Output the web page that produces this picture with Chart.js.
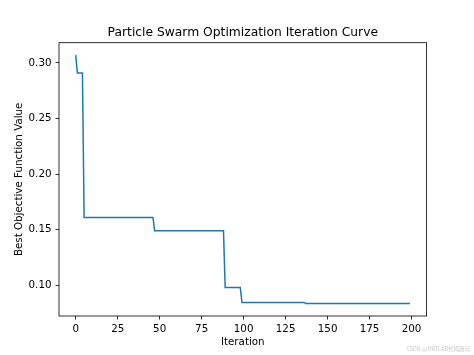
<!DOCTYPE html>
<html>
<head>
<meta charset="utf-8">
<script src="https://cdn.jsdelivr.net/npm/chart.js@4/dist/chart.umd.min.js"></script>
<style>
  html, body { margin: 0; padding: 0; background: #fff; }
  #wrap { width: 474px; height: 355px; position: relative; }
</style>
</head>
<body>
<div id="wrap"><canvas id="c" width="474" height="355"></canvas></div>
<script>
// Step changes of the best objective value (iteration where a new level starts, and its value)
const stepIterations = [0, 1, 5, 47, 89, 99, 137];
const stepValues = [0.307, 0.291, 0.161, 0.149, 0.098, 0.0845, 0.0835];
const lastIteration = 199;
const xTickStep = 25;
const yTickStep = 0.05;
const titleText = 'Particle Swarm Optimization Iteration Curve';
const xLabel = 'Iteration';
const yLabel = 'Best Objective Function Value';
const watermark = 'CSDN @MATLAB代码顾问';

// expand the step levels into one point per iteration
const points = [];
for (let it = 0; it <= lastIteration; it++) {
  let v = stepValues[0];
  for (let k = 0; k < stepIterations.length; k++) {
    if (it >= stepIterations[k]) v = stepValues[k];
  }
  points.push({ x: it, y: v });
}

const xs = points.map(p => p.x), ys = points.map(p => p.y);
const xMinD = Math.min(...xs), xMaxD = Math.max(...xs);
const yMinD = Math.min(...ys), yMaxD = Math.max(...ys);
const xm = (xMaxD - xMinD) * 0.05, ym = (yMaxD - yMinD) * 0.05;

const FONT = "'DejaVu Sans', sans-serif";

const boxPlugin = {
  id: 'box',
  afterDatasetsDraw(chart) {
    const a = chart.chartArea, ctx = chart.ctx;
    ctx.save();
    ctx.strokeStyle = '#000';
    ctx.lineWidth = 0.8;
    ctx.strokeRect(a.left, a.top, a.right - a.left, a.bottom - a.top);
    ctx.restore();
  },
  afterDraw(chart) {
    const a = chart.chartArea, ctx = chart.ctx;
    ctx.save();
    // axes title, centred over the plot area
    ctx.fillStyle = '#000';
    ctx.font = "12.3px 'DejaVu Sans', sans-serif";
    ctx.textAlign = 'center';
    ctx.textBaseline = 'middle';
    ctx.fillText(titleText, (a.left + a.right) / 2, 32.5);
    // watermark
    ctx.fillStyle = '#c8c8c8';
    ctx.font = "5.5px 'Noto Sans CJK SC', sans-serif";
    ctx.textAlign = 'right';
    ctx.fillText(watermark, 470, 349);
    ctx.restore();
  }
};

new Chart(document.getElementById('c'), {
  type: 'line',
  data: {
    datasets: [{
      data: points,
      borderColor: '#1f77b4',
      borderWidth: 1.5,
      pointRadius: 0,
      fill: false,
      tension: 0
    }]
  },
  options: {
    responsive: false,
    animation: false,
    devicePixelRatio: 1,
    layout: { padding: { left: 0, right: 474 - 426.6, top: 42.7, bottom: 0 } },
    plugins: {
      legend: { display: false },
      tooltip: { enabled: false },
      title: { display: false }
    },
    scales: {
      x: {
        type: 'linear',
        min: xMinD - xm,
        max: xMaxD + xm,
        afterFit(s) { s.height = 355 - 316; },
        grid: { drawOnChartArea: false, tickLength: 3.5, tickColor: '#000', tickWidth: 0.8 },
        border: { display: false },
        ticks: {
          stepSize: xTickStep,
          includeBounds: false,
          color: '#000',
          padding: 4,
          maxRotation: 0,
          font: { family: FONT, size: 10.3 }
        },
        title: {
          display: true,
          text: xLabel,
          color: '#000',
          font: { family: FONT, size: 10.3 },
          padding: { top: 0, bottom: 6 }
        }
      },
      y: {
        type: 'linear',
        min: yMinD - ym,
        max: yMaxD + ym,
        afterFit(s) { s.width = 59; },
        grid: { drawOnChartArea: false, tickLength: 3.5, tickColor: '#000', tickWidth: 0.8 },
        border: { display: false },
        ticks: {
          stepSize: yTickStep,
          includeBounds: false,
          color: '#000',
          padding: 4,
          font: { family: FONT, size: 10.3 },
          callback: v => v.toFixed(2)
        },
        title: {
          display: true,
          text: yLabel,
          color: '#000',
          font: { family: FONT, size: 10.3 },
          padding: { top: 13, bottom: 0 }
        }
      }
    }
  },
  plugins: [boxPlugin]
});
</script>
</body>
</html>
